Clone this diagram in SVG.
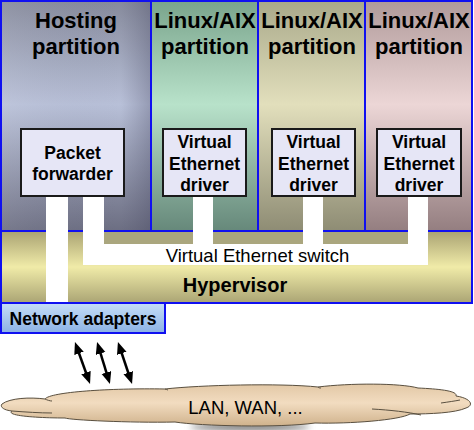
<svg xmlns="http://www.w3.org/2000/svg" width="474" height="430" viewBox="0 0 474 430">
<style>
.t{font-family:"Liberation Sans",Arial,sans-serif;fill:#000;text-anchor:middle}
.h{font-size:22px;font-weight:bold}
.b{font-size:17.5px;font-weight:bold}
.box{fill:#e6e6f6;stroke:#1a1a1a;stroke-width:2}
.div{stroke:#1010f0;stroke-width:2;fill:none}
.pipe{fill:#ffffff}
.arr{stroke:#000;stroke-width:2.5;fill:none;marker-start:url(#ah);marker-end:url(#ah)}
</style>
<defs>
<linearGradient id="gHost" x1="0" y1="0" x2="0" y2="1">
<stop offset="0" stop-color="#868a9c"/><stop offset="0.45" stop-color="#b8c0d8"/><stop offset="1" stop-color="#6c6e82"/>
</linearGradient>
<linearGradient id="gShade" x1="0" y1="0" x2="1" y2="0">
<stop offset="0" stop-color="#ffffff" stop-opacity="0.08"/><stop offset="0.8" stop-color="#50506a" stop-opacity="0"/><stop offset="1" stop-color="#40405a" stop-opacity="0.3"/>
</linearGradient>
<linearGradient id="gGreen" x1="0" y1="0" x2="0" y2="1">
<stop offset="0" stop-color="#7aa48c"/><stop offset="0.45" stop-color="#b8e2ca"/><stop offset="1" stop-color="#66887a"/>
</linearGradient>
<linearGradient id="gTan" x1="0" y1="0" x2="0" y2="1">
<stop offset="0" stop-color="#a9a98a"/><stop offset="0.45" stop-color="#e2dfbc"/><stop offset="1" stop-color="#8e8c74"/>
</linearGradient>
<linearGradient id="gPink" x1="0" y1="0" x2="0" y2="1">
<stop offset="0" stop-color="#b09a9a"/><stop offset="0.45" stop-color="#ecd6d6"/><stop offset="1" stop-color="#947e80"/>
</linearGradient>
<linearGradient id="gHyp" x1="0" y1="0" x2="0" y2="1">
<stop offset="0" stop-color="#a9a272"/><stop offset="0.5" stop-color="#f0eba8"/><stop offset="1" stop-color="#aaa474"/>
</linearGradient>
<linearGradient id="gNet" x1="0" y1="0" x2="0" y2="1">
<stop offset="0" stop-color="#c6def8"/><stop offset="1" stop-color="#8cb2e4"/>
</linearGradient>
<linearGradient id="gCloud" x1="0" y1="0" x2="0" y2="1">
<stop offset="0" stop-color="#e2c8a6"/><stop offset="0.45" stop-color="#f2dcc0"/><stop offset="1" stop-color="#cfb28c"/>
</linearGradient>
<filter id="blur" x="-20%" y="-50%" width="140%" height="200%"><feGaussianBlur stdDeviation="3"/></filter>
<marker id="ah" markerUnits="userSpaceOnUse" markerWidth="13" markerHeight="11" refX="3" refY="5" orient="auto-start-reverse" viewBox="0 0 13 11">
<path d="M0,0 L12,5 L0,10 z" fill="#000"/>
</marker>
</defs>

<g id="hosting-partition">
<rect x="1" y="1" width="150" height="230" fill="url(#gHost)"/>
<rect x="1" y="1" width="150" height="230" fill="url(#gShade)"/>
<text class="t h" x="76" y="28">Hosting</text>
<text class="t h" x="76" y="54">partition</text>
</g>
<g id="linux-partition-1">
<rect x="151" y="1" width="107" height="230" fill="url(#gGreen)"/>
<text class="t h" x="205" y="28">Linux/AIX</text>
<text class="t h" x="205" y="54">partition</text>
</g>
<g id="linux-partition-2">
<rect x="258" y="1" width="107" height="230" fill="url(#gTan)"/>
<text class="t h" x="312" y="28">Linux/AIX</text>
<text class="t h" x="312" y="54">partition</text>
</g>
<g id="linux-partition-3">
<rect x="365" y="1" width="107" height="230" fill="url(#gPink)"/>
<text class="t h" x="419" y="28">Linux/AIX</text>
<text class="t h" x="419" y="54">partition</text>
</g>

<g id="hypervisor">
<rect x="1" y="231" width="471" height="72" fill="url(#gHyp)"/>
<rect x="104" y="232" width="304" height="12" fill="#aaa67e"/>
<text class="t" x="235" y="292" style="font-size:20px;font-weight:bold">Hypervisor</text>
</g>

<g id="frame-lines">
<line class="div" x1="151" y1="1" x2="151" y2="231"/>
<line class="div" x1="258" y1="1" x2="258" y2="231"/>
<line class="div" x1="365" y1="1" x2="365" y2="231"/>
<line class="div" x1="1" y1="231" x2="472" y2="231"/>
<rect class="div" x="1" y="1" width="471" height="302"/>
</g>

<g id="connectors">
<rect class="pipe" x="46" y="196" width="22" height="107"/>
<rect class="pipe" x="83" y="196" width="21" height="69"/>
<rect class="pipe" x="83" y="244" width="345" height="21"/>
<rect class="pipe" x="193" y="196" width="20" height="48"/>
<rect class="pipe" x="303" y="196" width="20" height="48"/>
<rect class="pipe" x="408" y="196" width="20" height="69"/>
<line class="arr" x1="78.0" y1="350.5" x2="87.0" y2="375.5"/>
<line class="arr" x1="99.7" y1="350.6" x2="107.3" y2="375.4"/>
<line class="arr" x1="120.8" y1="350.5" x2="129.2" y2="375.5"/>
</g>

<g id="virtual-ethernet-switch">
<text class="t" x="257.5" y="262" style="font-size:18.5px">Virtual Ethernet switch</text>
</g>

<g id="packet-forwarder">
<rect class="box" x="21" y="129" width="103" height="67"/>
<text class="t b" x="72.5" y="159">Packet</text>
<text class="t b" x="72.5" y="180">forwarder</text>
</g>
<g id="ved-1">
<rect class="box" x="163" y="129" width="83" height="67"/>
<text class="t b" x="204.5" y="148">Virtual</text>
<text class="t b" x="204.5" y="170">Ethernet</text>
<text class="t b" x="204.5" y="191">driver</text>
</g>
<g id="ved-2">
<rect class="box" x="272" y="129" width="83" height="67"/>
<text class="t b" x="313.5" y="148">Virtual</text>
<text class="t b" x="313.5" y="170">Ethernet</text>
<text class="t b" x="313.5" y="191">driver</text>
</g>
<g id="ved-3">
<rect class="box" x="377" y="129" width="84" height="67"/>
<text class="t b" x="419" y="148">Virtual</text>
<text class="t b" x="419" y="170">Ethernet</text>
<text class="t b" x="419" y="191">driver</text>
</g>

<g id="network-adapters">
<rect x="1" y="303" width="164" height="30" fill="url(#gNet)" stroke="#1010f0" stroke-width="2"/>
<text class="t" x="83" y="325" style="font-size:17.5px;font-weight:bold">Network adapters</text>
</g>

<g id="lan-wan-cloud">
<ellipse cx="250" cy="427" rx="60" ry="4" fill="#808080" filter="url(#blur)"/>
<path d="M2,404 C10,398 30,397 45,399 C50,392 110,388 165,389 C200,385 280,383 318,387 C350,383 400,383 418,388 C440,389 458,391 456,396 C470,398 475,405 466,408 C455,413 430,414 410,414 C400,420 350,424 315,423 C280,428 200,426 175,422 C130,423 70,420 65,418 C40,418 5,416 12,411 C2,410 0,406 2,404 Z" fill="url(#gCloud)" stroke="#5a5040" stroke-width="1"/>
<path d="M45,399 C47,400 50,401 52,401 M12,411 C25,412 40,413 52,413 M165,389 C166,389 167,390 168,390 M318,387 C319,388 320,388 321,388 M372,409 C390,410 408,412 421,415 M441,403 C448,402 455,401 460,400" fill="none" stroke="#5a5040" stroke-width="1"/>
<text class="t" x="245.5" y="414" style="font-size:18.5px">LAN, WAN, ...</text>
</g>
</svg>
